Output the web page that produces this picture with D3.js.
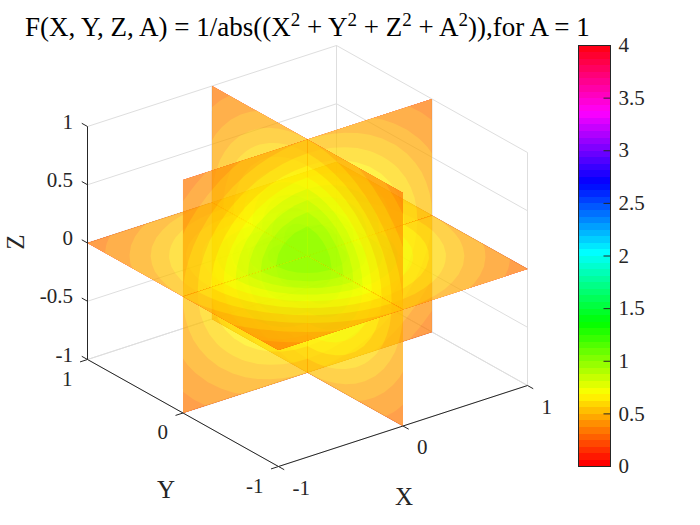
<!DOCTYPE html>
<html>
<head>
<meta charset="utf-8">
<style>
body { margin: 0; background: #fff; }
svg { display: block; }
text { font-family: "Liberation Serif", serif; fill: #262626; }
.grid { stroke: #dedede; stroke-width: 1; fill: none; }
.ruler { stroke: #262626; stroke-width: 1; fill: none; }
</style>
</head>
<body>
<svg width="700" height="525"></svg>
<script src="https://cdn.jsdelivr.net/npm/d3@7"></script>
<script>

var xTicks = [-1, 0, 1];
var yTicks = [-1, 0, 1];
var zTicks = [-1, -0.5, 0, 0.5, 1];
var colorTicks = [0, 0.5, 1, 1.5, 2, 2.5, 3, 3.5, 4];
var titleParts = ["F(X, Y, Z, A) = 1/abs((X", " + Y", " + Z", " + A", ")),for A = 1"];

// F on a slice plane, from the centre (top left) out to the corner, step 0.1
var quadrant = [
  [1.000, .990, .962, .917, .862, .800, .735, .671, .610, .552, .500],
  [ .990, .980, .952, .909, .855, .794, .730, .667, .606, .549, .498],
  [ .962, .952, .926, .885, .833, .775, .714, .654, .595, .541, .490],
  [ .917, .909, .885, .847, .800, .746, .690, .633, .578, .526, .478],
  [ .862, .855, .833, .800, .758, .709, .658, .606, .556, .508, .463],
  [ .800, .794, .775, .746, .709, .667, .621, .575, .529, .485, .444],
  [ .735, .730, .714, .690, .658, .621, .581, .541, .500, .461, .424],
  [ .671, .667, .654, .633, .606, .575, .541, .505, .469, .435, .402],
  [ .610, .606, .595, .578, .556, .529, .500, .469, .439, .408, .379],
  [ .552, .549, .541, .526, .508, .485, .461, .435, .408, .382, .356],
  [ .500, .498, .490, .478, .463, .444, .424, .402, .379, .356, .333]
];

var svg = d3.select("svg");

// screen offset of each data axis, split into horizontal and vertical part
var xToH = d3.scaleLinear().domain([-1, 1]).range([-124.5, 124.5]),
    xToV = d3.scaleLinear().domain([-1, 1]).range([40.5, -40.5]),
    yToH = d3.scaleLinear().domain([-1, 1]).range([95.5, -95.5]),
    yToV = d3.scaleLinear().domain([-1, 1]).range([53.5, -53.5]),
    zToV = d3.scaleLinear().domain([-1, 1]).range([116.5, -116.5]);

function project(x, y, z) {
  return [307.5 + xToH(x) + yToH(y), 256 + xToV(x) + yToV(y) + zToV(z)];
}

var line3d = d3.line();

// back walls and floor
var gridG = svg.append("g").attr("class", "grid");
zTicks.forEach(function(z) {
  gridG.append("path").attr("d", line3d([project(-1, 1, z), project(1, 1, z), project(1, -1, z)]));
});
xTicks.forEach(function(x) {
  gridG.append("path").attr("d", line3d([project(x, -1, -1), project(x, 1, -1), project(x, 1, 1)]));
});
yTicks.forEach(function(y) {
  gridG.append("path").attr("d", line3d([project(-1, y, -1), project(1, y, -1), project(1, y, 1)]));
});

// 64 level hsv colormap over 0..4
var levels = d3.range(64);
function levelColor(k) { return d3.hsl(k / 64 * 360, 1, 0.5).formatRgb(); }

var n = quadrant.length * 2 - 1;
var field = [];
d3.range(n).forEach(function(j) {
  d3.range(n).forEach(function(i) {
    field.push(quadrant[Math.abs(j - 10)][Math.abs(i - 10)]);
  });
});

var bands = d3.contours()
    .size([n, n])
    .thresholds(levels.map(function(k) { return k / 16; }))(field)
    .filter(function(c) { return c.coordinates.length > 0; });

var gridToData = d3.scaleLinear().domain([0.5, n - 0.5]).range([-1, 1]);
var bandPath = d3.geoPath();

var planes = [
  { id: "px", at: function(a, b) { return project(0, a, b); }, front: [-1, 1] },
  { id: "py", at: function(a, b) { return project(a, 0, b); }, front: [-1, 1] },
  { id: "pz", at: function(a, b) { return project(a, b, 0); }, front: [-1, -1] }
];

// each plane is cut in four so the pieces can be painted back to front
var pieces = [];
planes.forEach(function(plane) {
  [-1, 1].forEach(function(sa) {
    [-1, 1].forEach(function(sb) {
      pieces.push({
        plane: plane, sa: sa, sb: sb,
        rank: (sa == plane.front[0] ? 1 : 0) + (sb == plane.front[1] ? 1 : 0)
      });
    });
  });
});
pieces.sort(function(p, q) { return p.rank - q.rank; });

var defs = svg.append("defs");
var mid = n / 2;
// small overlap so the quadrants of a plane do not show a seam
var seam = 0.006;

pieces.forEach(function(p, i) {
  var o = p.plane.at(gridToData(0), gridToData(0)),
      u = p.plane.at(gridToData(1), gridToData(0)),
      v = p.plane.at(gridToData(0), gridToData(1));
  var m = [u[0] - o[0], u[1] - o[1], v[0] - o[0], v[1] - o[1], o[0], o[1]];

  defs.append("clipPath").attr("id", "clip" + i)
    .append("rect")
    .attr("x", p.sa < 0 ? 0.5 : mid - seam)
    .attr("y", p.sb < 0 ? 0.5 : mid - seam)
    .attr("width", mid - 0.5 + seam)
    .attr("height", mid - 0.5 + seam);

  svg.append("g")
    .attr("opacity", 0.7)
    .append("g")
    .attr("transform", "matrix(" + m.join(" ") + ")")
    .attr("clip-path", "url(#clip" + i + ")")
    .selectAll("path")
    .data(bands)
    .enter()
    .append("path")
    .attr("d", bandPath)
    .attr("fill", function(d) { return levelColor(Math.round(d.value * 16)); });
});

// rulers
var ruler = svg.append("g").attr("class", "ruler");
ruler.append("path").attr("d", line3d([project(-1, 1, 1), project(-1, 1, -1), project(-1, -1, -1), project(1, -1, -1)]));

var tickLen = 0.06;
zTicks.forEach(function(z) {
  ruler.append("path").attr("d", line3d([project(-1, 1, z), project(-1, 1 + tickLen, z)]));
  var p = project(-1, 1, z);
  svg.append("text").attr("x", 73).attr("y", p[1] + 2)
    .attr("text-anchor", "end").attr("font-size", 21).text(z);
});
xTicks.forEach(function(x) {
  ruler.append("path").attr("d", line3d([project(x, -1, -1), project(x, -1 - tickLen, -1)]));
  var p = project(x, -1, -1);
  svg.append("text").attr("x", p[0] + 14).attr("y", p[1] + 28)
    .attr("font-size", 21).text(x);
});
yTicks.forEach(function(y) {
  ruler.append("path").attr("d", line3d([project(-1, y, -1), project(-1 - tickLen, y, -1)]));
  var p = project(-1, y, -1);
  svg.append("text").attr("x", p[0] - 15).attr("y", p[1] + 26)
    .attr("text-anchor", "end").attr("font-size", 21).text(y);
});

svg.append("text").attr("x", 404).attr("y", 505).attr("text-anchor", "middle").attr("font-size", 25).text("X");
svg.append("text").attr("x", 166).attr("y", 498).attr("text-anchor", "middle").attr("font-size", 25).text("Y");
svg.append("text").attr("transform", "translate(24,242) rotate(-90)").attr("text-anchor", "middle").attr("font-size", 25).text("Z");

// title with superscripts
var title = svg.append("text").attr("x", 25).attr("y", 36).attr("font-size", 27).style("fill", "#000");
titleParts.forEach(function(part, i) {
  title.append("tspan").attr("dy", i ? 10 : 0).text(part);
  if (i < titleParts.length - 1) {
    title.append("tspan").attr("dy", -10).attr("font-size", 19).text("2");
  }
});

// colorbar
var cScale = d3.scaleLinear().domain([0, 4]).range([466, 45]);
var bar = svg.append("g");
bar.selectAll("rect")
  .data(levels)
  .enter()
  .append("rect")
  .attr("x", 578.5)
  .attr("width", 32)
  .attr("y", function(k) { return cScale((k + 1) / 16); })
  .attr("height", function(k) { return cScale(k / 16) - cScale((k + 1) / 16) + 0.5; })
  .attr("fill", levelColor)
  .attr("shape-rendering", "crispEdges");

bar.append("rect")
  .attr("x", 578.5).attr("y", 45.5).attr("width", 32).attr("height", 421)
  .attr("fill", "none").attr("stroke", "#262626");

var cAxis = svg.append("g")
  .attr("transform", "translate(610.5,0)")
  .call(d3.axisRight(cScale).tickValues(colorTicks).tickFormat(String).tickSizeInner(-7).tickSizeOuter(0).tickPadding(8));
cAxis.select(".domain").remove();
cAxis.selectAll("line").attr("stroke", "#262626");
cAxis.attr("font-family", null).attr("font-size", 21);

</script>
</body>
</html>
